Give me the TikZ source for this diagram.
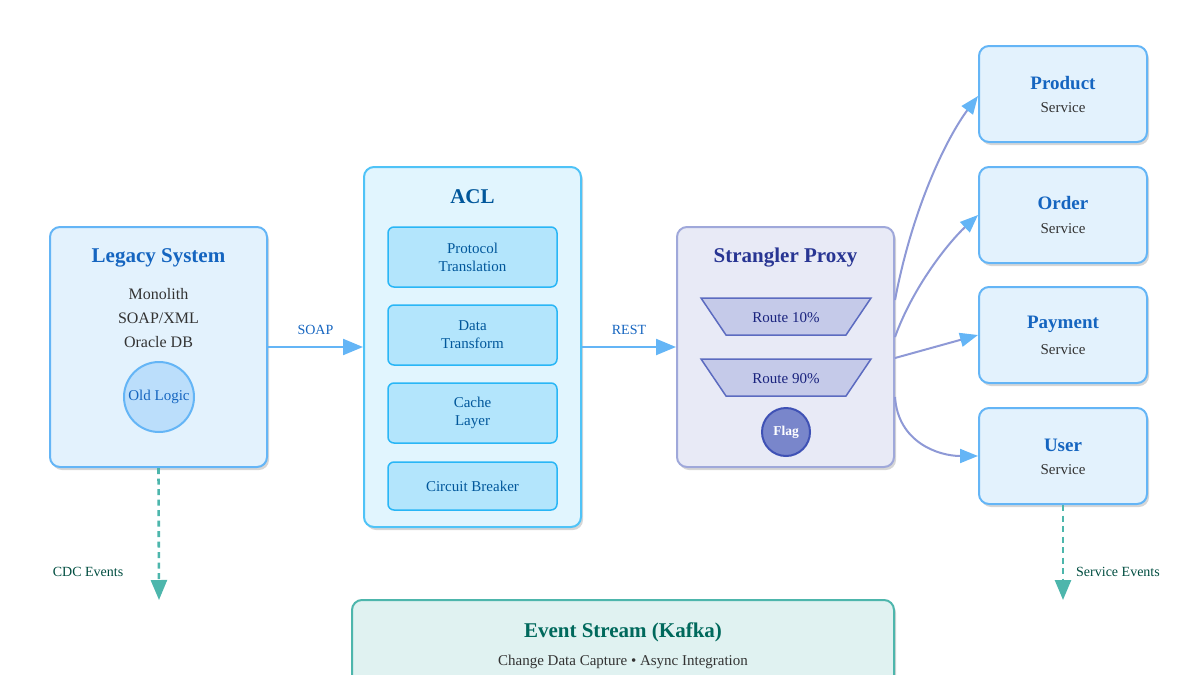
\documentclass[tikz,border=0pt]{standalone}
\usepackage{fontspec}
\setmainfont{Liberation Serif}
\usetikzlibrary{arrows.meta,shadows}
\definecolor{lgFill}{HTML}{E3F2FD}
\definecolor{lgStroke}{HTML}{64B5F6}
\definecolor{lgTitle}{HTML}{1565C0}
\definecolor{oldFill}{HTML}{BBDEFB}
\definecolor{aclFill}{HTML}{E1F5FE}
\definecolor{aclStroke}{HTML}{4FC3F7}
\definecolor{aclTitle}{HTML}{01579B}
\definecolor{inFill}{HTML}{B3E5FC}
\definecolor{inStroke}{HTML}{29B6F6}
\definecolor{pxFill}{HTML}{E8EAF6}
\definecolor{pxStroke}{HTML}{9FA8DA}
\definecolor{pxTitle}{HTML}{283593}
\definecolor{trFill}{HTML}{C5CAE9}
\definecolor{trStroke}{HTML}{5C6BC0}
\definecolor{trText}{HTML}{1A237E}
\definecolor{flFill}{HTML}{7986CB}
\definecolor{flStroke}{HTML}{3F51B5}
\definecolor{fanLine}{HTML}{8E99D6}
\definecolor{evFill}{HTML}{E0F2F1}
\definecolor{evStroke}{HTML}{4DB6AC}
\definecolor{evTitle}{HTML}{00695C}
\definecolor{evLabel}{HTML}{004D40}
\definecolor{bodyText}{HTML}{333333}
\begin{document}
\begin{tikzpicture}[x=1pt,y=-1pt,
  shade/.style={drop shadow={shadow xshift=2pt,shadow yshift=-3pt,opacity=0.16,fill=black}},
  bigbox/.style={draw,line width=2pt,rounded corners=10pt,inner sep=0pt,shade},
  innerbox/.style={draw=inStroke,fill=inFill,line width=1.5pt,rounded corners=6pt,minimum width=169pt,inner sep=0pt,align=center,text=aclTitle,font=\fontsize{15}{18}\selectfont},
  svcbox/.style={bigbox,fill=lgFill,draw=lgStroke,minimum width=168pt,minimum height=96pt},
  ttl/.style={font=\fontsize{21}{25}\selectfont\bfseries,inner sep=0pt},
  svcttl/.style={font=\fontsize{19}{23}\selectfont\bfseries,text=lgTitle,inner sep=0pt},
  body/.style={font=\fontsize{16}{19}\selectfont,text=bodyText,inner sep=0pt},
  small/.style={font=\fontsize{15}{18}\selectfont,inner sep=0pt},
  lbl/.style={font=\fontsize{14}{17}\selectfont,inner sep=0pt},
  conn/.style={draw=lgStroke,line width=2.2pt,-{Triangle[length=20pt,width=16pt]}},
  fan/.style={draw=fanLine,line width=2pt,-{Triangle[length=18pt,width=14pt,color=lgStroke]}},
  dasharrow/.style={draw=evStroke,line width=2.6pt,dash pattern=on 6pt off 4.5pt,-{Triangle[length=20pt,width=16pt]}},
  trap/.style={draw=trStroke,fill=trFill,line width=1.5pt}
]
\useasboundingbox (0,0) rectangle (1200,675);
\clip (0,0) rectangle (1200,675);

% Legacy system
\node[bigbox,fill=lgFill,draw=lgStroke,minimum width=217pt,minimum height=240pt] (legacy) at (158.5,347) {};
\node[ttl,text=lgTitle] (legacyT) at (158.5,258) {Legacy System};
\node[body] (mono) at (158.5,294) {Monolith};
\node[body] (soapxml) at (158.5,318) {SOAP/XML};
\node[body] (oracle) at (158.5,342) {Oracle DB};
\node[circle,draw=lgStroke,fill=oldFill,line width=2pt,minimum size=70pt,inner sep=0pt,text=lgTitle,font=\fontsize{15}{18}\selectfont] (old) at (159,397) {Old Logic};

% ACL
\node[bigbox,fill=aclFill,draw=aclStroke,minimum width=217pt,minimum height=360pt] (acl) at (472.5,347) {};
\node[ttl,text=aclTitle] (aclT) at (472.5,197) {ACL};
\node[innerbox,minimum height=60pt] (proto) at (472.5,257) {Protocol\\Translation};
\node[innerbox,minimum height=60pt] (data) at (472.5,335) {Data\\Transform};
\node[innerbox,minimum height=60pt] (cache) at (472.5,413) {Cache\\Layer};
\node[innerbox,minimum height=48pt] (cb) at (472.5,486) {Circuit Breaker};

% Strangler proxy
\node[bigbox,fill=pxFill,draw=pxStroke,minimum width=217pt,minimum height=240pt] (proxy) at (785.5,347) {};
\node[ttl,text=pxTitle] (proxyT) at (785.5,258) {Strangler Proxy};
\draw[trap] (701,298) -- (871,298) -- (846,335) -- (726,335) -- cycle;
\node[small,text=trText] (r10) at (786,318) {Route 10\%};
\draw[trap] (701,359) -- (871,359) -- (846,396) -- (726,396) -- cycle;
\node[small,text=trText] (r90) at (786,379) {Route 90\%};
\node[circle,draw=flStroke,fill=flFill,line width=2pt,minimum size=48pt,inner sep=0pt,text=white,font=\fontsize{13.5}{16}\selectfont\bfseries] (flag) at (786,432) {Flag};

% Services
\node[svcbox] (product) at (1063,94) {};
\node[svcttl] (productT) at (1063,83) {Product};
\node[small,text=bodyText] (productS) at (1063,108) {Service};
\node[svcbox] (order) at (1063,215) {};
\node[svcttl] (orderT) at (1063,203) {Order};
\node[small,text=bodyText] (orderS) at (1063,229) {Service};
\node[svcbox] (payment) at (1063,335) {};
\node[svcttl] (paymentT) at (1063,324) {Payment};
\node[small,text=bodyText] (paymentS) at (1063,350) {Service};
\node[svcbox] (user) at (1063,456) {};
\node[svcttl] (userT) at (1063,445) {User};
\node[small,text=bodyText] (userS) at (1063,470) {Service};

% Event stream
\node[bigbox,fill=evFill,draw=evStroke,minimum width=542pt,minimum height=110pt] (event) at (623,655) {};
\node[ttl,text=evTitle] (eventT) at (623,632) {Event Stream (Kafka)};
\node[small,text=bodyText] (eventS) at (623,662) {Change Data Capture • Async Integration};

% Connectors
\draw[conn] (legacy.east) -- (acl.west) node[midway,lbl,text=lgTitle,yshift=17pt] (soapL) {SOAP};
\draw[conn] (acl.east) -- (proxy.west) node[midway,lbl,text=lgTitle,yshift=17pt] (restL) {REST};

\draw[fan] ([yshift=47pt]proxy.east) .. controls +(18,-95) and +(-30,40) .. ([yshift=-2pt]product.west);
\draw[fan] ([yshift=10pt]proxy.east) .. controls +(18,-50) and +(-30,28) .. (order.west);
\draw[fan] ([yshift=-11pt]proxy.east) -- (payment.west);
\draw[fan] ([yshift=-50pt]proxy.east) .. controls +(3,45) and +(-40,0) .. (user.west);

\coordinate (cdcEnd) at (159,600);
\coordinate (svcEnd) at (1063,600);
\draw[dasharrow] (legacy.south) -- (cdcEnd);
\draw[dasharrow] (user.south) -- (svcEnd);
\node[lbl,text=evLabel] (cdcL) at (88,572) {CDC Events};
\node[lbl,text=evLabel,anchor=west] (svcL) at (1076,572) {Service Events};
\end{tikzpicture}
\end{document}
